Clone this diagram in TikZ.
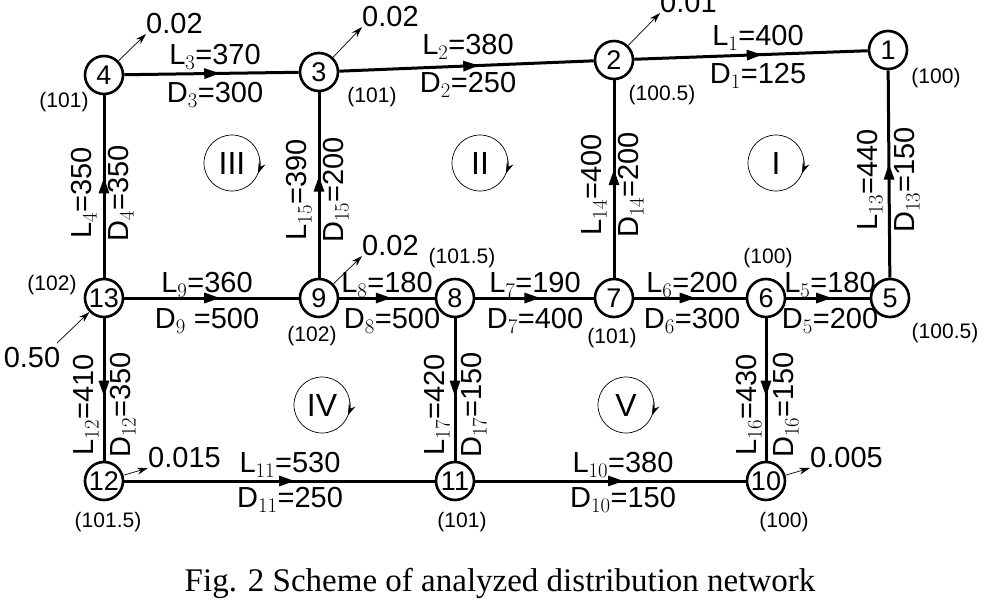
\documentclass[tikz,border=0pt]{standalone}
\usepackage{fontspec}
\setmainfont{Liberation Sans}
\newfontfamily\capfont{Liberation Serif}
\usetikzlibrary{decorations.markings,arrows.meta}
\begin{document}
\begin{tikzpicture}[x=1pt,y=-1pt,
  nd/.style={circle,draw,line width=2.6pt,minimum size=38pt,inner sep=0pt,font=\fontsize{27}{27}\selectfont,fill=white},
  pipe/.style={line width=3pt,postaction={decorate},decoration={markings,mark=at position 0.55 with {\arrow{Triangle[length=16pt,width=10pt]}}}},
  lab/.style={font=\fontsize{29}{29}\selectfont,inner sep=0pt},
  pr/.style={font=\fontsize{21}{21}\selectfont,inner sep=0pt},
  dem/.style={line width=0.7pt,-{Stealth[length=11pt,width=7pt]}}]
\useasboundingbox (0,0) rectangle (999,603);
\node[nd] (n4) at (104,75) {4};
\node[nd] (n3) at (319,72) {3};
\node[nd] (n2) at (614,60) {2};
\node[nd] (n1) at (888,50) {1};
\node[nd] (n13) at (104,298) {13};
\node[nd] (n9) at (319,298) {9};
\node[nd] (n8) at (455,298) {8};
\node[nd] (n7) at (614,298) {7};
\node[nd] (n6) at (766,298) {6};
\node[nd] (n5) at (890,298) {5};
\node[nd] (n12) at (104,481) {12};
\node[nd] (n11) at (455,481) {11};
\node[nd] (n10) at (766,481) {10};
\foreach \a/\b in {n4/n3,n3/n2,n2/n1,n13/n4,n9/n3,n7/n2,n5/n1,n13/n9,n9/n8,n8/n7,n7/n6,n6/n5,n13/n12,n8/n11,n6/n10,n12/n11,n11/n10}
  \draw[pipe] (\a) -- (\b);
% horizontal labels
\node[lab] (l3) at (215,57) {L$_3$=370};
\node[lab] (d3) at (215,95) {D$_3$=300};
\node[lab] (l2) at (468,47) {L$_2$=380};
\node[lab] (d2) at (468,85) {D$_2$=250};
\node[lab] (l1) at (758,38) {L$_1$=400};
\node[lab] (d1) at (758,76) {D$_1$=125};
\node[lab] (l9) at (207,285) {L$_9$=360};
\node[lab] (d9) at (207,321) {D$_9$ =500};
\node[lab] (l8) at (387,285) {L$_8$=180};
\node[lab] (d8) at (392,321) {D$_8$=500};
\node[lab] (l7) at (535,285) {L$_7$=190};
\node[lab] (d7) at (535,321) {D$_7$=400};
\node[lab] (l6) at (692,285) {L$_6$=200};
\node[lab] (d6) at (692,321) {D$_6$=300};
\node[lab] (l5) at (830,285) {L$_5$=180};
\node[lab] (d5) at (830,321) {D$_5$=200};
\node[lab] (l11) at (290,465) {L$_{11}$=530};
\node[lab] (d11) at (290,500) {D$_{11}$=250};
\node[lab] (l10) at (623,465) {L$_{10}$=380};
\node[lab] (d10) at (623,500) {D$_{10}$=150};
% vertical labels
\node[lab,rotate=90] (l4) at (84,193) {L$_4$=350};
\node[lab,rotate=90] (d4) at (121,193) {D$_4$=350};
\node[lab,rotate=90] (l15) at (299,190) {L$_{15}$=390};
\node[lab,rotate=90] (d15) at (336,190) {D$_{15}$=200};
\node[lab,rotate=90] (l14) at (594,185) {L$_{14}$=400};
\node[lab,rotate=90] (d14) at (631,185) {D$_{14}$=200};
\node[lab,rotate=90] (l13) at (870,180) {L$_{13}$=440};
\node[lab,rotate=90] (d13) at (907,180) {D$_{13}$=150};
\node[lab,rotate=90] (l12) at (86,405) {L$_{12}$=410};
\node[lab,rotate=90] (d12) at (123,405) {D$_{12}$=350};
\node[lab,rotate=90] (l17) at (437,405) {L$_{17}$=420};
\node[lab,rotate=90] (d17) at (474,405) {D$_{17}$=150};
\node[lab,rotate=90] (l16) at (749,405) {L$_{16}$=430};
\node[lab,rotate=90] (d16) at (786,405) {D$_{16}$=150};
% pressures
\node[pr] at (64,102) {(101)};
\node[pr] at (372,97) {(101)};
\node[pr] at (662,95) {(100.5)};
\node[pr] at (936,78) {(100)};
\node[pr] at (52,285) {(102)};
\node[pr] at (312,336) {(102)};
\node[pr] at (462,258) {(101.5)};
\node[pr] at (612,338) {(101)};
\node[pr] at (768,258) {(100)};
\node[pr] at (945,333) {(100.5)};
\node[pr] at (108,522) {(101.5)};
\node[pr] at (462,522) {(101)};
\node[pr] at (784,522) {(100)};
% demands
\node[lab,anchor=south west] (q4) at (146,34) {0.02};
\draw[dem] (n4) -- (q4.south west);
\node[lab,anchor=south west] (q3) at (362,27) {0.02};
\draw[dem] (n3) -- (q3.south west);
\node[lab,anchor=south west] (q2) at (660,13) {0.01};
\draw[dem] (n2) -- (q2.south west);
\node[lab,anchor=south west] (q9) at (362,256) {0.02};
\draw[dem] (n9) -- (q9.south west);
\node[lab,anchor=south west] (q12) at (148,468) {0.015};
\draw[dem] (n12) -- (q12.south west);
\node[lab,anchor=south west] (q10) at (810,468) {0.005};
\draw[dem] (n10) -- (q10.south west);
\node[lab] (q13) at (32,358) {0.50};
\coordinate (s13) at (57,343);
\draw[dem] (s13) -- (n13);
% loops
\foreach \c/\t in {{(232,163)}/III,{(480,163)}/II,{(776,163)}/I,{(322,405)}/IV,{(626,405)}/V}{
  \node[circle,draw,line width=0.7pt,minimum size=56pt,inner sep=0pt,font=\fontsize{32}{32}\selectfont] at \c {\t};
  \draw[line width=0.7pt,-{Stealth[length=11pt,width=7pt]}] \c ++(-8:28) arc (-8:22:28);
}
\node[font=\capfont\fontsize{33}{33}\selectfont,inner sep=0pt] (cap) at (500,583) {Fig. 2 Scheme of analyzed distribution network};
\end{tikzpicture}
\end{document}
